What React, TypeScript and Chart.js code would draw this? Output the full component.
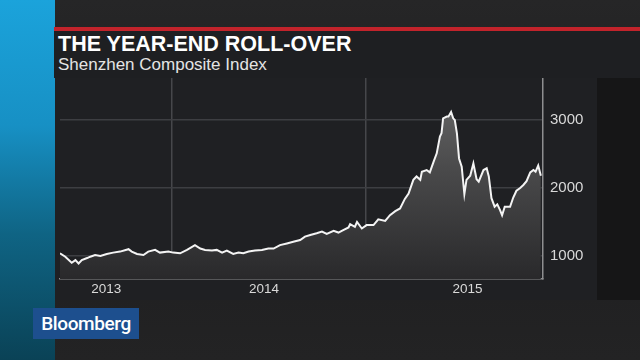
import React, { useEffect, useRef } from "react";
import { Chart, registerables } from "chart.js";

Chart.register(...registerables);

// ---- data ----
const dates = [
  "2013-06-04", "2013-06-14", "2013-06-26", "2013-07-03", "2013-07-09", "2013-07-15", "2013-07-25", "2013-07-31",
  "2013-08-09", "2013-08-19", "2013-08-31", "2013-09-12", "2013-09-25", "2013-10-11", "2013-10-17", "2013-10-27",
  "2013-11-08", "2013-11-17", "2013-11-30", "2013-12-09", "2013-12-25", "2014-01-03", "2014-01-16", "2014-01-29",
  "2014-02-13", "2014-02-23", "2014-03-04", "2014-03-17", "2014-03-26", "2014-04-05", "2014-04-14", "2014-04-26",
  "2014-05-06", "2014-05-15", "2014-05-25", "2014-06-06", "2014-06-19", "2014-07-01", "2014-07-11", "2014-07-23",
  "2014-08-05", "2014-08-17", "2014-08-30", "2014-09-08", "2014-09-18", "2014-09-30", "2014-10-10", "2014-10-19",
  "2014-11-01", "2014-11-10", "2014-11-19", "2014-11-29", "2014-12-02", "2014-12-11", "2014-12-15", "2014-12-24",
  "2015-01-02", "2015-01-15", "2015-01-24", "2015-02-06", "2015-02-15", "2015-02-25", "2015-03-06", "2015-03-15",
  "2015-03-22", "2015-03-31", "2015-04-06", "2015-04-13", "2015-04-16", "2015-04-25", "2015-05-01", "2015-05-08",
  "2015-05-14", "2015-05-20", "2015-05-23", "2015-05-26", "2015-06-02", "2015-06-05", "2015-06-10", "2015-06-14",
  "2015-06-17", "2015-06-21", "2015-06-25", "2015-06-30", "2015-07-05", "2015-07-09", "2015-07-16", "2015-07-22",
  "2015-07-28", "2015-08-01", "2015-08-10", "2015-08-16", "2015-08-20", "2015-08-25", "2015-08-31", "2015-09-05",
  "2015-09-10", "2015-09-14", "2015-09-19", "2015-09-29", "2015-10-05", "2015-10-11", "2015-10-18", "2015-10-24",
  "2015-10-30", "2015-11-06", "2015-11-12", "2015-11-16", "2015-11-21", "2015-11-26",
];
const values = [
  1040, 990, 900, 940, 890, 940, 970, 990,
  1015, 1000, 1030, 1050, 1065, 1100, 1065, 1030,
  1015, 1065, 1090, 1050, 1065, 1050, 1040, 1090,
  1160, 1110, 1090, 1080, 1090, 1050, 1080, 1030,
  1050, 1040, 1065, 1080, 1090, 1110, 1110, 1160,
  1185, 1210, 1235, 1285, 1310, 1335, 1360, 1325,
  1370, 1345, 1380, 1420, 1470, 1430, 1500, 1405,
  1455, 1455, 1540, 1515, 1600, 1660, 1700, 1840,
  1920, 2120, 2170, 2120, 2240, 2265, 2230, 2385,
  2510, 2755, 2805, 3025, 3050, 3050, 3120, 3025,
  3000, 2805, 2435, 2315, 1910, 2120, 2180, 2360,
  2130, 2095, 2265, 2290, 2170, 1850, 1725, 1760,
  1680, 1600, 1725, 1725, 1860, 1960, 2000, 2045,
  2100, 2230, 2265, 2240, 2330, 2180,
];
const yTicks = [1000, 2000, 3000];
const yearLineDates = ["2014-01-01", "2015-01-01"];
const yearLabels = ["2013", "2014", "2015"];
const yearLabelDates = ["2013-08-30", "2014-06-23", "2015-07-11"];
const xRange = ["2013-06-04", "2015-11-30"];
const yRange = [662, 3618];

const TITLE = "THE YEAR-END ROLL-OVER";
const SUBTITLE = "Shenzhen Composite Index";

function toYear(s: string): number {
  const [y, m, d] = s.split("-").map(Number);
  const start = Date.UTC(y, 0, 1);
  const t = Date.UTC(y, m - 1, d);
  return y + (t - start) / (365 * 86400000);
}

const FONT = "'Liberation Sans', Arial, sans-serif";

export default function App() {
  const ref = useRef<HTMLCanvasElement | null>(null);

  useEffect(() => {
    if (!ref.current) return;
    const points = dates.map((d, i) => ({ x: toYear(d), y: values[i] }));
    const lineVals = yearLineDates.map(toYear);
    const labelMap = new Map<number, string>();
    yearLabelDates.forEach((d, i) => labelMap.set(toYear(d), yearLabels[i]));
    const xTickVals = [...lineVals, ...labelMap.keys()].sort((a, b) => a - b);

    const chart = new Chart(ref.current, {
      type: "line",
      data: {
        datasets: [
          {
            data: points,
            borderColor: "#f4f4f4",
            borderWidth: 2,
            pointRadius: 0,
            tension: 0,
            fill: "start",
            backgroundColor: (ctx: any) => {
              const c = ctx.chart;
              const ca = c.chartArea;
              if (!ca) return "rgba(100,100,100,0.5)";
              const g = c.ctx.createLinearGradient(0, ca.top, 0, ca.bottom);
              g.addColorStop(0, "#6c6c6c");
              g.addColorStop(0.45, "#4a4a4b");
              g.addColorStop(1, "#29292b");
              return g;
            },
          },
        ],
      },
      options: {
        animation: false,
        responsive: false,
        maintainAspectRatio: false,
        layout: { padding: { left: 5, right: 0, top: 0, bottom: 0 } },
        plugins: { legend: { display: false }, tooltip: { enabled: false } },
        scales: {
          x: {
            type: "linear",
            min: toYear(xRange[0]),
            max: toYear(xRange[1]),
            afterBuildTicks: (s: any) => {
              s.ticks = xTickVals.map((v) => ({ value: v }));
            },
            afterFit: (s: any) => {
              s.height = 21;
              s.paddingLeft = 0;
              s.paddingRight = 0;
              s.paddingTop = 0;
              s.paddingBottom = 0;
            },
            grid: {
              color: (ctx: any) =>
                ctx.tick && lineVals.some((v) => Math.abs(v - ctx.tick.value) < 1e-9)
                  ? "#46474b"
                  : "rgba(0,0,0,0)",
              drawTicks: false,
              lineWidth: 1.5,
            },
            border: { display: true, color: "#8e8e90", width: 1.5 },
            ticks: {
              autoSkip: false,
              maxRotation: 0,
              padding: 2,
              color: "#d9d9d9",
              font: { family: FONT, size: 13.5 },
              callback: (v: any) => {
                for (const [k, lab] of labelMap) if (Math.abs(k - v) < 1e-9) return lab;
                return "";
              },
            },
          },
          y: {
            position: "right",
            min: yRange[0],
            max: yRange[1],
            afterBuildTicks: (s: any) => {
              s.ticks = yTicks.map((v) => ({ value: v }));
            },
            afterFit: (s: any) => {
              s.width = 57;
              s.paddingLeft = 0;
              s.paddingRight = 0;
              s.paddingTop = 0;
              s.paddingBottom = 0;
            },
            grid: { color: "#3d3e42", drawTicks: false, lineWidth: 1.5 },
            border: { display: true, color: "#8e8e90", width: 1.5 },
            ticks: {
              padding: 7,
              color: "#d9d9d9",
              font: { family: FONT, size: 15 },
              callback: (v: any) => String(v),
            },
          },
        },
      },
    } as any);
    return () => chart.destroy();
  }, []);

  return (
    <div
      style={{
        position: "fixed",
        left: 0,
        top: 0,
        width: 640,
        height: 360,
        overflow: "hidden",
        background: "linear-gradient(180deg, #262627 0%, #1d1d1f 50%, #232324 100%)",
        fontFamily: FONT,
      }}
    >
      {/* left blue panel */}
      <div
        style={{
          position: "absolute",
          left: 0,
          top: 0,
          width: 55,
          height: 360,
          background: "linear-gradient(180deg, #1ba3db 0%, #1790c4 35%, #0f6484 65%, #0a4256 100%)",
        }}
      />
      {/* right dark area */}
      <div style={{ position: "absolute", left: 597, top: 78, width: 43, height: 222, background: "#161617" }} />
      {/* chart panel */}
      <div style={{ position: "absolute", left: 55, top: 78, width: 542, height: 222, background: "#1f2023" }} />
      {/* red rule */}
      <div style={{ position: "absolute", left: 54, top: 27, width: 586, height: 4, background: "#c2232b" }} />
      {/* title box */}
      <div style={{ position: "absolute", left: 54, top: 31, width: 586, height: 47, background: "#1e1f22" }} />
      <div
        style={{
          position: "absolute",
          left: 58,
          top: 32,
          color: "#ffffff",
          fontWeight: "bold",
          fontSize: 21.5,
          lineHeight: "24px",
          whiteSpace: "nowrap",
        }}
      >
        {TITLE}
      </div>
      <div
        style={{
          position: "absolute",
          left: 58,
          top: 55,
          color: "#e4e4e4",
          fontSize: 17,
          lineHeight: "20px",
          whiteSpace: "nowrap",
        }}
      >
        {SUBTITLE}
      </div>
      <canvas
        ref={ref}
        width={545}
        height={222}
        style={{ position: "absolute", left: 55, top: 78, width: 545, height: 222 }}
      />
      {/* Bloomberg logo */}
      <div
        style={{
          position: "absolute",
          left: 33,
          top: 308,
          width: 106,
          height: 31,
          background: "#1d4f8e",
          color: "#ffffff",
          fontFamily: "Roboto, 'Liberation Sans', sans-serif",
          fontWeight: 500,
          fontSize: 19,
          lineHeight: "31px",
          textAlign: "center",
          letterSpacing: -0.4,
        }}
      >
        Bloomberg
      </div>
    </div>
  );
}
